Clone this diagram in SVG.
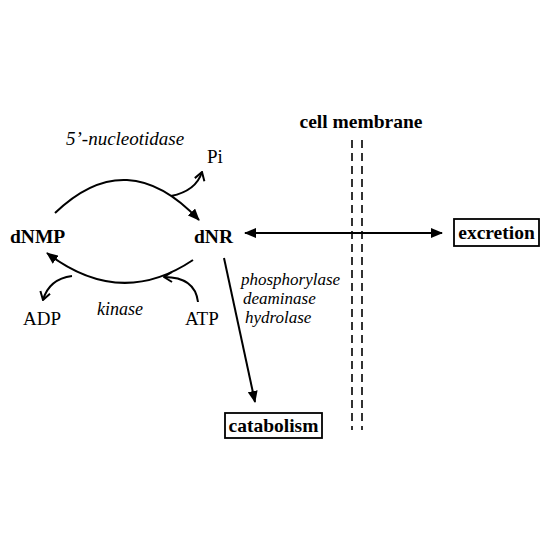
<svg xmlns="http://www.w3.org/2000/svg" width="550" height="550" viewBox="0 0 550 550">
<style>
text{font-family:"Liberation Serif","Times New Roman",serif;fill:#000}
.b{font-weight:bold;font-size:19.5px}
.i{font-style:italic;font-size:18px}
.e{font-style:italic;font-size:17px}
.r{font-size:19px}
.ln{fill:none;stroke:#000;stroke-width:2}
.dash{fill:none;stroke:#000;stroke-width:1.6;stroke-dasharray:8 5}
.box{fill:#fff;stroke:#000;stroke-width:1.8}
</style>
<defs>
<marker id="fa" viewBox="0 0 12 10" refX="11" refY="5" markerWidth="12" markerHeight="10" markerUnits="userSpaceOnUse" orient="auto-start-reverse">
<path d="M0,0 L12,5 L0,10 z" fill="#000"/>
</marker>
<marker id="ch" viewBox="0 0 10 12" refX="9" refY="6" markerWidth="10" markerHeight="12" markerUnits="userSpaceOnUse" orient="auto">
<path d="M1,1 L9,6 L1,11" fill="none" stroke="#000" stroke-width="2"/>
</marker>
</defs>
<rect width="550" height="550" fill="#fff"/>
<g id="connectors">
<path class="ln" d="M55,213 Q127,143.5 199,220" marker-end="url(#fa)"/>
<path class="ln" d="M171,196 Q196,191 202,172" marker-end="url(#ch)"/>
<path class="ln" d="M193,260 Q120,309 47,253" marker-end="url(#fa)"/>
<path class="ln" d="M72,276 Q49,279 43,300" marker-end="url(#ch)"/>
<path class="ln" d="M198,302 Q195,277 164,277" marker-end="url(#ch)"/>
<path class="ln" d="M245,233 L442,233" marker-start="url(#fa)" marker-end="url(#fa)"/>
<path class="ln" d="M224,258 L255,402" marker-end="url(#fa)"/>
</g>
<g id="membrane">
<line class="dash" x1="352" y1="140" x2="352" y2="430"/>
<line class="dash" x1="362" y1="140" x2="362" y2="430"/>
<text class="b" x="361" y="128" text-anchor="middle">cell membrane</text>
</g>
<g id="dNMP"><text class="b" x="10" y="243">dNMP</text></g>
<g id="dNR"><text class="b" x="194" y="243">dNR</text></g>
<g id="excretion">
<rect class="box" x="454" y="219" width="85" height="27"/>
<text class="b" x="496.5" y="239" text-anchor="middle">excretion</text>
</g>
<g id="catabolism">
<rect class="box" x="225" y="413" width="97" height="25"/>
<text class="b" x="273.5" y="432" text-anchor="middle">catabolism</text>
</g>
<g id="labels">
<text class="i" x="66" y="145" style="font-size:19px">5’-nucleotidase</text>
<text class="r" x="207" y="163">Pi</text>
<text class="r" x="23" y="325">ADP</text>
<text class="r" x="185" y="325">ATP</text>
<text class="i" x="97" y="315">kinase</text>
<text class="e" x="241" y="285">phosphorylase</text>
<text class="e" x="243" y="304">deaminase</text>
<text class="e" x="245" y="323">hydrolase</text>
</g>
</svg>
